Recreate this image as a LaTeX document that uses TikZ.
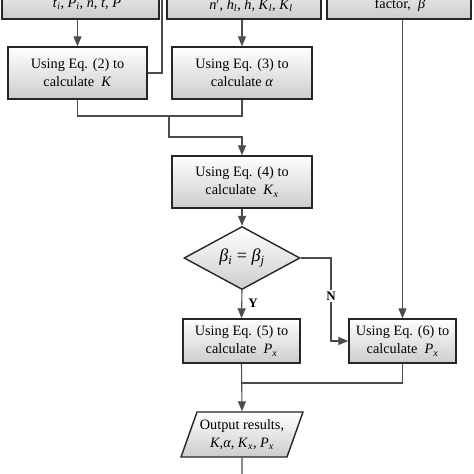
\documentclass[tikz,border=0pt]{standalone}
\usepackage{fontspec}
\setmainfont{Liberation Serif}
\usetikzlibrary{shapes.geometric,arrows.meta}
\newcommand{\vi}[1]{\textit{#1}}
\newcommand{\vs}[2]{\textit{#1}\textsubscript{\textit{#2}}}
\begin{document}
\begin{tikzpicture}[x=1pt,y=-1pt,
  font=\fontsize{14.3}{18}\selectfont,
  ln/.style={draw=black!70,line width=1.1pt},
  arr/.style={ln,-{Triangle[length=10pt,width=8pt]}},
  boxsty/.style={draw=black!85,line width=1.4pt,top color=white,bottom color=black!20,
    align=center,inner sep=0pt},
  procbox/.style={boxsty,rectangle},
  para/.style={boxsty,trapezium,trapezium left angle=62,trapezium right angle=118,
    trapezium stretches body},
  lbl/.style={font=\bfseries\fontsize{13}{15}\selectfont,inner sep=1pt}
]
\useasboundingbox (0,0) rectangle (474,474);
\clip (0,0) rectangle (474,474);
\fill[white] (0,0) rectangle (474,474);

% top inputs (cut off at the top)
\node[para,minimum width=157pt,minimum height=46pt] (p1) at (80.5,-4) {};
\node[para,minimum width=154pt,minimum height=46pt] (p2) at (244,-4) {};
\node[para,minimum width=144pt,minimum height=46pt] (p3) at (399,-4) {};
\node (t1) at (87,4) {\vs{t}{i}, \vs{P}{i}, \vi{n}, \vi{t}, \vi{P}};
\node (t2) at (251,5) {\vi{n}$'$, \vs{h}{l}, \vi{h}, \vs{K}{l}, \vs{K}{l}};
\node (t3) at (400,5) {factor,~ \vi{β}};

% process boxes
\node[procbox,minimum width=139pt,minimum height=52pt] (k) at (77.5,73)
  {Using Eq. (2) to\\calculate~ \vi{K}};
\node[procbox,minimum width=140pt,minimum height=52pt] (a) at (242,73)
  {Using Eq. (3) to\\calculate \vi{α}};
\node[procbox,minimum width=140pt,minimum height=52pt] (kx) at (242,182)
  {Using Eq. (4) to\\calculate~ \vs{K}{x}};
\node[boxsty,diamond,minimum width=116pt,minimum height=45pt] (d) at (242,258)
  {\fontsize{18}{18}\selectfont\vs{β}{i} = \vs{β}{j}};
\node[procbox,minimum width=117pt,minimum height=44pt] (e5) at (241.5,341)
  {Using Eq. (5) to\\calculate~ \vs{P}{x}};
\node[procbox,minimum width=107pt,minimum height=44pt] (e6) at (402.5,341)
  {Using Eq. (6) to\\calculate~ \vs{P}{x}};
\node[para,minimum width=122pt,minimum height=45pt] (o) at (242,434.5)
  {Output results,\\\vi{K},\vi{α}, \vs{K}{x}, \vs{P}{x}};

% helper points
\coordinate (up) at (162,-10);
\coordinate (j1) at (169,116);
\coordinate (j2) at (169,137);
\coordinate (c1) at (331,300);
\coordinate (j3) at (242,383);
\coordinate (bot) at (242,486);

% connectors
\draw[arr] (p1.south -| k.north) -- (k.north);
\draw[arr] (p2.south -| a.north) -- (a.north);
\draw[ln] (k.east) -| (up);
\draw[ln] (k.south) |- (j1) -| (a.south);
\draw[arr] (j1) -- (j2) -| (kx.north);
\draw[arr] (kx.south) -- (d.north);
\draw[arr] (d.south) -- node[lbl,right=5pt,pos=0.45] (y) {Y} (e5.north);
\draw[arr] (d.east) -| (c1) |- (e6.west);
\node[lbl,fill=white,inner sep=2pt] (n) at (331,296) {N};
\draw[arr] (p3.south -| e6.north) -- (e6.north);
\draw[arr] (e5.south) -- (o.north);
\draw[ln] (e6.south) |- (j3);
\draw[arr] (o.south) -- (bot);
\end{tikzpicture}
\end{document}
